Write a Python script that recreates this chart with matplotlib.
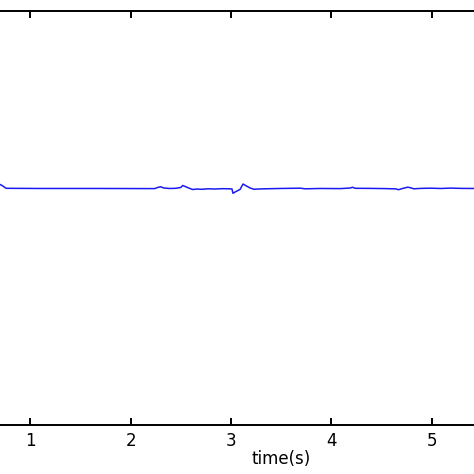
import matplotlib
matplotlib.use("Agg")
import matplotlib.pyplot as plt

time_s = [0.60, 0.69, 0.72, 0.76, 1.09, 1.69, 2.24, 2.27, 2.30, 2.33, 2.39, 2.45, 2.50, 2.52,
          2.55, 2.59, 2.62, 2.66, 2.71, 2.77, 2.84, 2.91, 2.99, 3.01, 3.02, 3.05, 3.09,
          3.12, 3.15, 3.19, 3.23, 3.27, 3.34, 3.49, 3.69, 3.74, 3.89, 4.09, 4.19, 4.21,
          4.24, 4.39, 4.54, 4.64, 4.67, 4.71, 4.76, 4.79, 4.82, 4.89, 4.99, 5.09, 5.19,
          5.29, 5.43, 5.50]
signal = [0.590, 0.582, 0.5785, 0.5717, 0.5713, 0.5713, 0.5710, 0.5737, 0.5754, 0.5725, 0.5713,
          0.5717, 0.5737, 0.5785, 0.5754, 0.5713, 0.5688, 0.5700, 0.5693, 0.5705, 0.5700,
          0.5708, 0.5705, 0.5700, 0.5597, 0.5640, 0.5688, 0.5821, 0.5778, 0.5725, 0.5693,
          0.5700, 0.5705, 0.5713, 0.5720, 0.5705, 0.5713, 0.5710, 0.5725, 0.5742, 0.5717,
          0.5715, 0.5710, 0.5703, 0.5684, 0.5713, 0.5744, 0.5730, 0.5705, 0.5715, 0.5720,
          0.5713, 0.5722, 0.5715, 0.5713, 0.5713]
x_ticks = [1, 2, 3, 4, 5]
x_label = "time(s)"

plt.rcParams['font.family'] = ['DejaVu Sans']

fig = plt.figure(figsize=(4.74, 4.74), dpi=100)
ax = fig.add_axes([-0.002, 0.1034, 1.004, 0.8734])
ax.plot(time_s, signal, color=(0.1, 0.1, 0.95), lw=1.1)
ax.set_xlim(0.69, 5.43)
ax.set_ylim(0, 1)
ax.set_xticks(x_ticks)
ax.set_xticklabels([str(t) for t in x_ticks], fontsize=12)
ax.set_yticks([])
ax.tick_params(axis='x', direction='in', length=5, width=1.4, top=True, bottom=True, pad=5)
for s in ax.spines.values():
    s.set_linewidth(1.4)
ax.set_xlabel(x_label, fontsize=12, va='center')
ax.xaxis.set_label_coords(0.592, -0.082)
fig.savefig("out.png", dpi=100)
